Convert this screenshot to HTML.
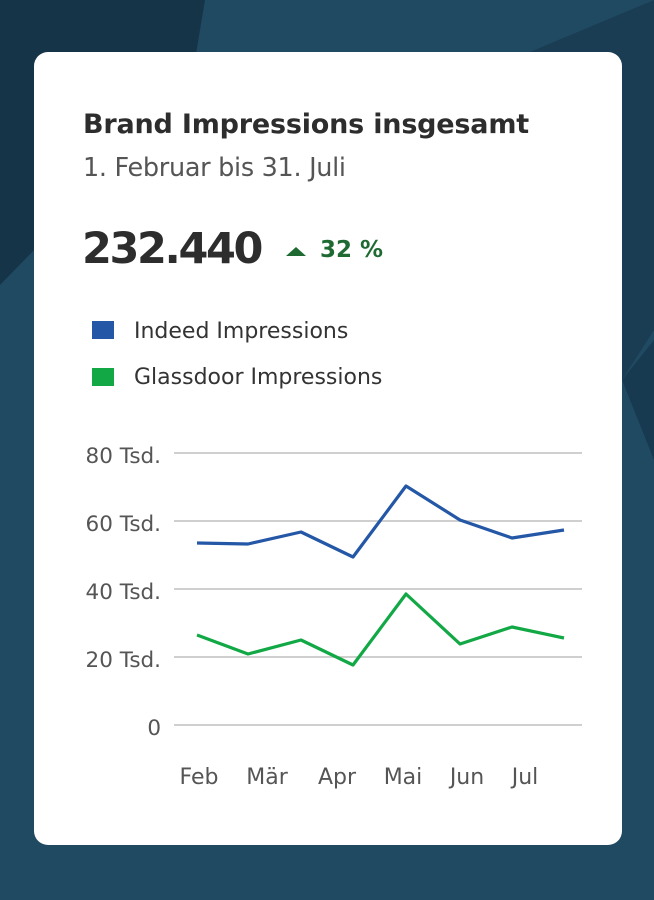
<!DOCTYPE html>
<html><head><meta charset="utf-8"><style>
body{margin:0;width:654px;height:900px;overflow:hidden;background:#1f4a62;font-family:"DejaVu Sans","Liberation Sans",sans-serif;position:relative}
.card{position:absolute;left:34px;top:52px;width:588px;height:793px;background:#fff;border-radius:14px}
.t{position:absolute;left:83px;top:109px;font-size:27px;font-weight:bold;color:#2d2d2d;letter-spacing:-0.2px}
.s{position:absolute;left:83px;top:153px;font-size:25.5px;color:#555;letter-spacing:-0.3px}
.big{position:absolute;left:82px;top:224px;font-size:43px;font-weight:bold;color:#2d2d2d;letter-spacing:-2.4px}
.pct{position:absolute;left:320px;top:237px;font-size:23px;font-weight:bold;color:#1e6a32}
.leg{position:absolute;left:134px;font-size:22px;color:#333}
.sq{position:absolute;left:92px;width:22px;height:18px}
</style></head><body>
<svg width="654" height="900" style="position:absolute;left:0;top:0">
<polygon points="0,0 205,0 190,90 0,285" fill="#163447"/>
<polygon points="530,52 654,0 654,330 622,380" fill="#1a3d54"/>
<polygon points="622,380 654,340 654,460" fill="#183a50"/>
</svg>
<div class="card"></div>
<div class="t">Brand Impressions insgesamt</div>
<div class="s">1. Februar bis 31. Juli</div>
<div class="big">232.440</div>
<svg width="30" height="20" style="position:absolute;left:285px;top:242px"><polygon points="1,14 11,5 21,14" fill="#1e6a32"/></svg>
<div class="pct">32 %</div>
<div class="sq" style="top:321px;background:#2457a6"></div>
<div class="leg" style="top:319px">Indeed Impressions</div>
<div class="sq" style="top:368px;background:#12a845"></div>
<div class="leg" style="top:365px">Glassdoor Impressions</div>
<svg width="654" height="900" style="position:absolute;left:0;top:0" font-family="DejaVu Sans, Liberation Sans, sans-serif">
<g stroke="#cfcfcf" stroke-width="2">
<line x1="174" y1="453" x2="582" y2="453"/><line x1="174" y1="521" x2="582" y2="521"/>
<line x1="174" y1="589" x2="582" y2="589"/><line x1="174" y1="657" x2="582" y2="657"/>
<line x1="174" y1="725" x2="582" y2="725"/></g>
<g fill="#555" font-size="21.5" text-anchor="end">
<text x="161" y="463">80 Tsd.</text><text x="161" y="531">60 Tsd.</text>
<text x="161" y="599">40 Tsd.</text><text x="161" y="667">20 Tsd.</text>
<text x="161" y="735">0</text></g>
<g fill="#555" font-size="22" text-anchor="middle">
<text x="199" y="784">Feb</text><text x="267" y="784">Mär</text><text x="337" y="784">Apr</text>
<text x="403" y="784">Mai</text><text x="467" y="784">Jun</text><text x="525" y="784">Jul</text></g>
<polyline fill="none" stroke="#2457a6" stroke-width="3.2" stroke-linejoin="round" points="197,543 248,544 301,532 353,557 406,486 460,520 512,538 564,530"/>
<polyline fill="none" stroke="#12a845" stroke-width="3.2" stroke-linejoin="round" points="197,635 248,654 301,640 353,665 406,594 460,644 512,627 564,638"/>
</svg>
</body></html>
